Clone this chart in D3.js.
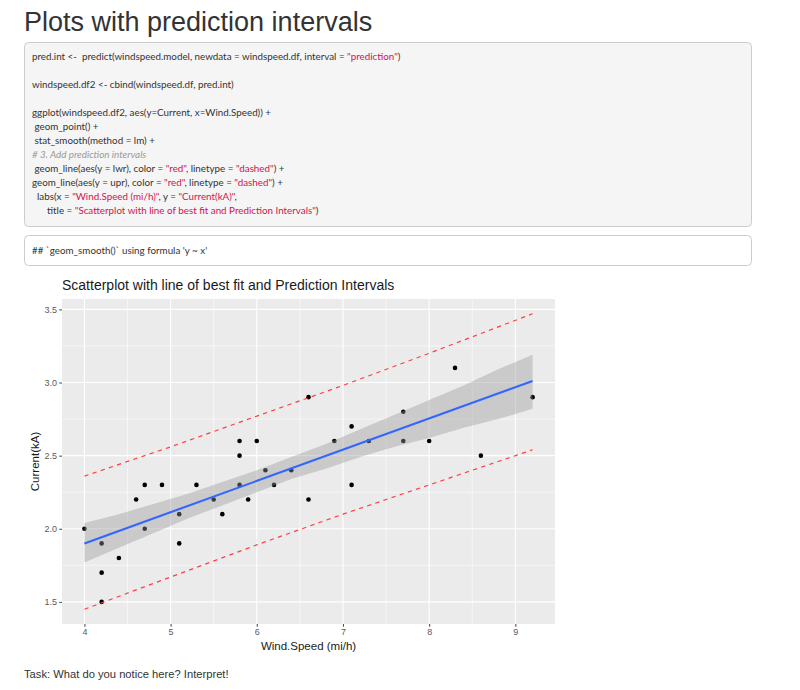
<!DOCTYPE html>
<html>
<head>
<meta charset="utf-8">
<script src="https://cdn.jsdelivr.net/npm/d3@7"></script>
<style>
  body { margin: 0; background: #fff; }
  svg { display: block; }
</style>
</head>
<body>
<svg id="page"></svg>
<script>
const wind_speed = [4.0, 4.2, 4.2, 4.2, 4.4, 4.6, 4.7, 4.7, 4.9, 5.1, 5.1, 5.3, 5.5, 5.6, 5.8, 5.8, 5.8,
                    5.9, 6.0, 6.1, 6.2, 6.4, 6.6, 6.6, 6.9, 7.1, 7.1, 7.3, 7.7, 7.7, 8.0, 8.3, 8.6, 9.2];
const current    = [2.0, 1.9, 1.7, 1.5, 1.8, 2.2, 2.3, 2.0, 2.3, 2.1, 1.9, 2.3, 2.2, 2.1, 2.6, 2.5, 2.3,
                    2.2, 2.6, 2.4, 2.3, 2.4, 2.9, 2.2, 2.6, 2.7, 2.3, 2.6, 2.8, 2.6, 2.6, 3.1, 2.5, 2.9];

// fitted line ends
const fit_x = [4.0, 9.2];
const fit_y = [1.90, 3.01];

// confidence band (grey ribbon)
const band_x  = [4.0, 4.4, 4.8, 5.2, 5.6, 6.0, 6.4, 6.8, 7.2, 7.6, 8.0, 8.4, 8.8, 9.2];
const band_lo = [1.77, 1.87, 1.97, 2.07, 2.16, 2.25, 2.34, 2.41, 2.49, 2.56, 2.62, 2.69, 2.75, 2.82];
const band_hi = [2.04, 2.10, 2.17, 2.24, 2.32, 2.40, 2.49, 2.58, 2.68, 2.78, 2.88, 2.98, 3.09, 3.19];

// prediction interval lines
const pi_x   = [4.0, 5.0, 6.0, 7.0, 8.0, 9.2];
const pi_lwr = [1.45, 1.67, 1.89, 2.10, 2.30, 2.54];
const pi_upr = [2.36, 2.56, 2.77, 2.98, 3.20, 3.47];

const x_ticks = [4, 5, 6, 7, 8, 9];
const y_ticks = [1.5, 2.0, 2.5, 3.0, 3.5];

// code chunk: [text, kind]  n = normal, s = string, c = comment
const code_lines = [
  [["pred.int <-  predict(windspeed.model, newdata = windspeed.df, interval = ", "n"], ["\"prediction\"", "s"], [")", "n"]],
  [],
  [["windspeed.df2 <- cbind(windspeed.df, pred.int)", "n"]],
  [],
  [["ggplot(windspeed.df2, aes(y=Current, x=Wind.Speed)) +", "n"]],
  [[" geom_point() +", "n"]],
  [[" stat_smooth(method = lm) +", "n"]],
  [["# 3. Add prediction intervals", "c"]],
  [[" geom_line(aes(y = lwr), color = ", "n"], ["\"red\"", "s"], [", linetype = ", "n"], ["\"dashed\"", "s"], [") +", "n"]],
  [["geom_line(aes(y = upr), color = ", "n"], ["\"red\"", "s"], [", linetype = ", "n"], ["\"dashed\"", "s"], [") +", "n"]],
  [["  labs(x = ", "n"], ["\"Wind.Speed (mi/h)\"", "s"], [", y = ", "n"], ["\"Current(kA)\"", "s"], [",", "n"]],
  [["      title = ", "n"], ["\"Scatterplot with line of best fit and Prediction Intervals\"", "s"], [")", "n"]]
];
const output_line = "## `geom_smooth()` using formula 'y ~ x'";

const W = 800, H = 690;
const svg = d3.select("#page").attr("width", W).attr("height", H);

const sans = "'Liberation Sans', Arial, sans-serif";
const code_font = "Lato, 'Open Sans', sans-serif";
const kind_color = {n: "#333333", s: "#d3124f", c: "#999999"};

// page heading
svg.append("text")
   .attr("x", 24).attr("y", 31)
   .attr("font-family", sans).attr("font-size", 27)
   .attr("fill", "#333")
   .text("Plots with prediction intervals");

// code box
svg.append("rect")
   .attr("x", 24.5).attr("y", 42.5).attr("width", 727).attr("height", 184).attr("rx", 4)
   .attr("fill", "#f5f5f5").attr("stroke", "#cccccc");

const code_text = svg.append("g")
   .attr("font-family", code_font).attr("font-size", 9.8);

code_lines.forEach(function(segs, i) {
  if (segs.length == 0) return;
  let t = code_text.append("text")
     .attr("x", 32).attr("y", 59.5 + i * 14)
     .attr("xml:space", "preserve");
  segs.forEach(function(s) {
    t.append("tspan")
     .attr("fill", kind_color[s[1]])
     .attr("font-style", s[1] == "c" ? "italic" : "normal")
     .text(s[0]);
  });
});

// output box
svg.append("rect")
   .attr("x", 24.5).attr("y", 235.5).attr("width", 727).attr("height", 30).attr("rx", 4)
   .attr("fill", "#ffffff").attr("stroke", "#cccccc");
svg.append("text")
   .attr("x", 32).attr("y", 254)
   .attr("font-family", code_font).attr("font-size", 9.8)
   .attr("fill", "#333").attr("xml:space", "preserve")
   .text(output_line);

// ---- ggplot style chart ----
const panel = {left: 62, right: 555, top: 299, bottom: 624};

function expand(ext) {
  let pad = (ext[1] - ext[0]) * 0.05;
  return [ext[0] - pad, ext[1] + pad];
}

const x_ext = d3.extent(wind_speed);
const y_ext = [d3.min([d3.min(current), d3.min(pi_lwr), d3.min(band_lo)]),
               d3.max([d3.max(current), d3.max(pi_upr), d3.max(band_hi)])];

const x = d3.scaleLinear().domain(expand(x_ext)).range([panel.left, panel.right]);
const y = d3.scaleLinear().domain(expand(y_ext)).range([panel.bottom, panel.top]);

const chart = svg.append("g");

chart.append("rect")
     .attr("x", panel.left).attr("y", panel.top)
     .attr("width", panel.right - panel.left).attr("height", panel.bottom - panel.top)
     .attr("fill", "#ebebeb");

const x_minor = x_ticks.slice(0, -1).map(d => d + 0.5);
const y_minor = y_ticks.slice(0, -1).map(d => d + 0.25);

chart.selectAll(".xminor").data(x_minor).enter().append("line")
     .attr("x1", d => x(d)).attr("x2", d => x(d))
     .attr("y1", panel.top).attr("y2", panel.bottom)
     .attr("stroke", "#fff").attr("stroke-width", 0.55);
chart.selectAll(".yminor").data(y_minor).enter().append("line")
     .attr("y1", d => y(d)).attr("y2", d => y(d))
     .attr("x1", panel.left).attr("x2", panel.right)
     .attr("stroke", "#fff").attr("stroke-width", 0.55);
chart.selectAll(".xmajor").data(x_ticks).enter().append("line")
     .attr("x1", d => x(d)).attr("x2", d => x(d))
     .attr("y1", panel.top).attr("y2", panel.bottom)
     .attr("stroke", "#fff").attr("stroke-width", 1.1);
chart.selectAll(".ymajor").data(y_ticks).enter().append("line")
     .attr("y1", d => y(d)).attr("y2", d => y(d))
     .attr("x1", panel.left).attr("x2", panel.right)
     .attr("stroke", "#fff").attr("stroke-width", 1.1);

// points first, the ribbon is laid over them
chart.selectAll(".pt").data(d3.range(wind_speed.length)).enter().append("circle")
     .attr("cx", i => x(wind_speed[i]))
     .attr("cy", i => y(current[i]))
     .attr("r", 2.3)
     .attr("fill", "#000");

const ribbon = d3.area()
  .x((d, i) => x(band_x[i]))
  .y0((d, i) => y(band_lo[i]))
  .y1((d, i) => y(band_hi[i]));
chart.append("path")
     .attr("d", ribbon(band_x))
     .attr("fill", "#999999").attr("fill-opacity", 0.4);

const line = d3.line().x(d => x(d[0])).y(d => y(d[1]));
chart.append("path")
     .attr("d", line(d3.zip(fit_x, fit_y)))
     .attr("fill", "none").attr("stroke", "#3366FF").attr("stroke-width", 2.1);

[pi_lwr, pi_upr].forEach(function(vals) {
  chart.append("path")
       .attr("d", line(d3.zip(pi_x, vals)))
       .attr("fill", "none").attr("stroke", "#ff4040").attr("stroke-width", 1.2)
       .attr("stroke-dasharray", "4.3,4.3");
});

// axes
const x_axis = chart.append("g")
  .attr("transform", "translate(0," + panel.bottom + ")")
  .call(d3.axisBottom(x).tickValues(x_ticks).tickSize(2.75).tickPadding(2.2).tickFormat(d3.format("d")));
const y_axis = chart.append("g")
  .attr("transform", "translate(" + panel.left + ",0)")
  .call(d3.axisLeft(y).tickValues(y_ticks).tickSize(2.75).tickPadding(2.2).tickFormat(d3.format(".1f")));

[x_axis, y_axis].forEach(function(a) {
  a.select(".domain").remove();
  a.selectAll(".tick line").attr("stroke", "#555").attr("stroke-width", 1.1);
  a.selectAll(".tick text").attr("fill", "#5a5a5a")
   .attr("font-family", sans).attr("font-size", 9);
});

chart.append("text")
     .attr("x", (panel.left + panel.right) / 2).attr("y", 650)
     .attr("text-anchor", "middle")
     .attr("font-family", sans).attr("font-size", 11.5).attr("fill", "#1a1a1a")
     .text("Wind.Speed (mi/h)");

chart.append("text")
     .attr("transform", "translate(39," + ((panel.top + panel.bottom) / 2) + ") rotate(-90)")
     .attr("text-anchor", "middle")
     .attr("font-family", sans).attr("font-size", 11.5).attr("fill", "#1a1a1a")
     .text("Current(kA)");

chart.append("text")
     .attr("x", panel.left).attr("y", 290)
     .attr("font-family", sans).attr("font-size", 14).attr("fill", "#1a1a1a")
     .text("Scatterplot with line of best fit and Prediction Intervals");

// task line under the chart
svg.append("text")
   .attr("x", 24).attr("y", 678)
   .attr("font-family", sans).attr("font-size", 11.2)
   .attr("fill", "#333")
   .text("Task: What do you notice here? Interpret!");
</script>
</body>
</html>
